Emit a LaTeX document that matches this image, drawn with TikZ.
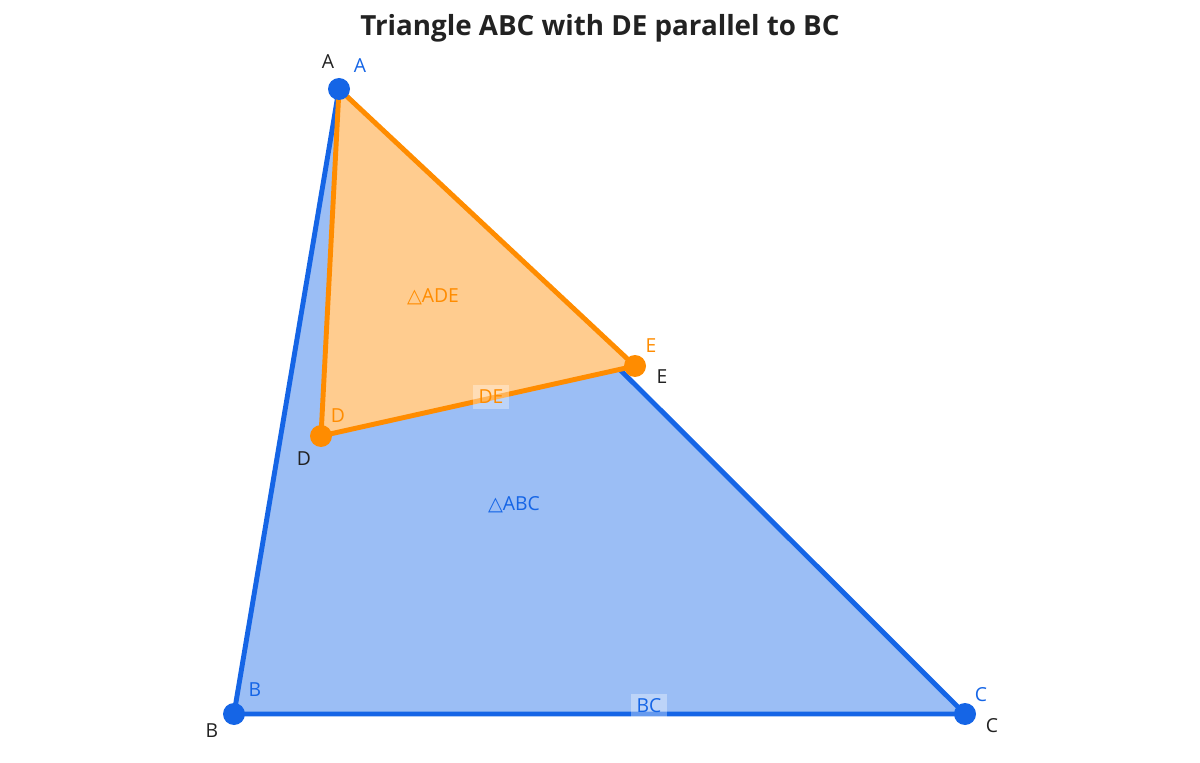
\documentclass[tikz,border=0pt]{standalone}
\usepackage{fontspec}
\setmainfont{Open Sans}
\newfontfamily\symfont{DejaVu Sans}
\definecolor{bline}{RGB}{21,101,230}
\definecolor{bfill}{RGB}{155,190,245}
\definecolor{oline}{RGB}{255,140,0}
\definecolor{ofill}{RGB}{255,204,143}
\definecolor{tcol}{RGB}{34,34,34}
\tikzset{
  blab/.style={text=bline,font=\fontsize{11}{13}\selectfont,inner sep=0pt},
  olab/.style={text=oline,font=\fontsize{11}{13}\selectfont,inner sep=0pt},
  klab/.style={text=tcol,font=\fontsize{11}{13}\selectfont,inner sep=0pt},
  segbox/.style={fill=white,fill opacity=0.35,text opacity=1,inner sep=3pt,font=\fontsize{11}{13}\selectfont},
  dotb/.style={circle,fill=bline,minimum size=0.44cm,inner sep=0pt},
  doto/.style={circle,fill=oline,minimum size=0.44cm,inner sep=0pt},
}
\begin{document}
\begin{tikzpicture}[x=0.02cm,y=-0.02cm]
\useasboundingbox (0,0) rectangle (1200,763);
\coordinate (A) at (339,89);
\coordinate (B) at (234,714);
\coordinate (C) at (965,714);
\coordinate (D) at (321,436);
\coordinate (E) at (635,366);
\node[font=\bfseries\fontsize{15.8}{19}\selectfont,text=tcol] (title) at (600,28) {Triangle ABC with DE parallel to BC};
\filldraw[fill=bfill,draw=bline,line width=2.8pt,line join=round] (A) -- (B) -- (C) -- cycle;
\node[segbox,text=bline] (bc) at (649,706) {BC};
\filldraw[fill=ofill,draw=oline,line width=2.8pt,line join=round] (A) -- (D) -- (E) -- cycle;
\node[segbox,text=oline] (de) at (491,397) {DE};
\node[olab] (tade) at (433,297) {{\symfont △}ADE};
\node[blab] (tabc) at (514,505) {{\symfont △}ABC};
\node[doto] (Dd) at (D) {};
\node[doto] (Ed) at (E) {};
\node[dotb] (Ad) at (A) {};
\node[dotb] (Bd) at (B) {};
\node[dotb] (Cd) at (C) {};
\node[klab] (kA) at (328,62) {A};
\node[blab] (bA) at (360,66) {A};
\node[blab] (bB) at (255,690) {B};
\node[klab] (kB) at (212,731) {B};
\node[blab] (bC) at (981,695) {C};
\node[klab] (kC) at (992,726) {C};
\node[olab] (oD) at (338,416) {D};
\node[klab] (kD) at (304,459) {D};
\node[olab] (oE) at (651,346) {E};
\node[klab] (kE) at (662,377) {E};
\end{tikzpicture}
\end{document}
